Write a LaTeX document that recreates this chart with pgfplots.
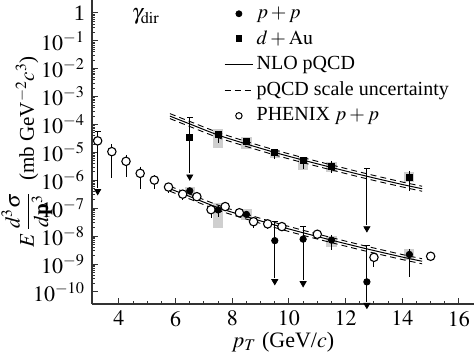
\documentclass[border=0pt]{standalone}
\usepackage{mathptmx}
\usepackage{fontspec}
\setmainfont{Liberation Serif}
\usepackage{pgfplots}
\usepackage{pgfplotstable}
\pgfplotsset{compat=1.18}

% NLO pQCD curves with scale-uncertainty band
\pgfplotstableread{
x    nlo      hi       lo
5.8  5.0e-7   6.15e-7  4.07e-7
6.5  2.63e-7  3.23e-7  2.14e-7
7.5  1.05e-7  1.29e-7  8.5e-8
8.5  5.0e-8   6.15e-8  4.07e-8
9.5  2.5e-8   3.08e-8  2.03e-8
10.5 1.32e-8  1.62e-8  1.07e-8
11.5 7.2e-9   8.9e-9   5.85e-9
12.7 3.6e-9   4.43e-9  2.93e-9
14.0 1.78e-9  2.19e-9  1.45e-9
14.7 1.26e-9  1.55e-9  1.02e-9
}\ppcurve
\pgfplotstableread{
x    nlo      hi       lo
5.8  2.0e-4   2.46e-4  1.63e-4
6.5  1.05e-4  1.29e-4  8.5e-5
7.5  4.2e-5   5.2e-5   3.4e-5
8.5  2.0e-5   2.46e-5  1.63e-5
9.5  1.0e-5   1.23e-5  8.1e-6
10.5 5.3e-6   6.5e-6   4.3e-6
11.5 2.9e-6   3.57e-6  2.36e-6
12.7 1.44e-6  1.77e-6  1.17e-6
14.0 7.1e-7   8.7e-7   5.8e-7
14.7 5.0e-7   6.15e-7  4.07e-7
}\dacurve
% PHENIX p+p
\pgfplotstableread{
x     y
3.25  2.6e-5
3.75  1.07e-5
4.25  4.8e-6
4.75  1.78e-6
5.25  1.02e-6
5.75  5.75e-7
6.25  3.2e-7
6.75  2.6e-7
7.25  8.9e-8
7.75  1.15e-7
8.25  6.9e-8
8.75  3.3e-8
9.25  2.75e-8
9.75  2.2e-8
11.0  1.17e-8
13.0  1.74e-9
15.0  1.9e-9
}\phenix
% p+p
\pgfplotstableread{
x     y
6.5   4.2e-7
7.5   8.7e-8
8.5   6.0e-8
9.5   6.9e-9
10.5  7.8e-9
11.5  7.2e-9
12.75 2.3e-10
14.25 2.2e-9
}\pp
% d+Au
\pgfplotstableread{
x     y
6.5   3.5e-5
7.5   4.5e-5
8.5   2.45e-5
9.5   9.8e-6
10.5  5.1e-6
11.5  3.1e-6
14.25 1.29e-6
}\dau
% error bar segments, nan = break
\pgfplotstableread{
x     y
3.25  5.6e-5
3.25  5.4e-7
nan   nan
3.75  2.0e-5
3.75  1.26e-6
nan   nan
4.25  8.1e-6
4.25  1.3e-6
nan   nan
4.75  3.1e-6
4.75  4.9e-7
nan   nan
5.25  1.55e-6
5.25  4.9e-7
nan   nan
5.75  8.3e-7
5.75  3.5e-7
nan   nan
6.25  3.2e-7
6.25  2.0e-7
nan   nan
7.25  8.9e-8
7.25  4.5e-8
nan   nan
8.75  3.3e-8
8.75  2.0e-8
nan   nan
9.25  2.75e-8
9.25  1.8e-8
nan   nan
13.0  1.74e-9
13.0  8.1e-10
nan   nan
6.5   5.2e-7
6.5   3.2e-7
nan   nan
7.5   1.3e-7
7.5   5.0e-8
nan   nan
8.5   7.5e-8
8.5   4.8e-8
nan   nan
9.5   3.3e-8
9.5   3.2e-10
nan   nan
10.5  2.2e-8
10.5  2.7e-10
nan   nan
11.5  1.12e-8
11.5  3.3e-9
nan   nan
12.75 4.5e-9
12.75 4.5e-11
nan   nan
14.25 3.5e-9
14.25 3.5e-10
nan   nan
6.5   1.8e-4
6.5   1.8e-6
nan   nan
7.5   5.6e-5
7.5   2.2e-5
nan   nan
8.5   3.0e-5
8.5   2.0e-5
nan   nan
9.5   1.2e-5
9.5   5.6e-6
nan   nan
10.5  6.3e-6
10.5  2.5e-6
nan   nan
11.5  5.0e-6
11.5  1.8e-6
nan   nan
12.75 2.6e-6
12.75 2.5e-8
nan   nan
14.25 2.2e-6
14.25 4.3e-7
}\bars
\pgfplotstableread{
x     y
3.25  5.4e-7
9.5   3.2e-10
10.5  2.7e-10
12.75 4.5e-11
6.5   1.8e-6
12.75 2.5e-8
}\tips
\pgfplotstableread{
x     y
3.25  5.6e-5
9.5   3.3e-8
10.5  2.2e-8
12.75 4.5e-9
6.5   1.8e-4
12.75 2.6e-6
}\caps

\begin{document}
\begin{tikzpicture}
\begin{axis}[
  scale only axis, width=191pt, height=152pt,
  xmin=3.05, xmax=16.53,
  ymode=log, ymin=3.7e-11, ymax=2.9,
  axis x line*=bottom, axis y line*=left,
  axis line style={-, line width=0.6pt, black!80},
  tick align=inside, major tick length=3pt, minor tick length=1.6pt,
  tick style={black!80, line width=0.5pt},
  xtick={4,6,...,16}, minor x tick num=3,
  ytick={1e-10,1e-9,1e-8,1e-7,1e-6,1e-5,1e-4,1e-3,1e-2,1e-1,1},
  yticklabels={$10^{-10}$,$10^{-9}$,$10^{-8}$,$10^{-7}$,$10^{-6}$,$10^{-5}$,$10^{-4}$,$10^{-3}$,$10^{-2}$,$10^{-1}$,1},
  ticklabel style={font=\fontsize{11}{13}\selectfont},
  xlabel={$p_T$ (GeV/$c$)},
  xlabel style={font=\fontsize{11}{13}\selectfont, yshift=4pt},
  ylabel={$E\,\displaystyle\frac{d^3\sigma}{d\mathbf{p}^3}$\ \ (mb GeV$^{-2}c^3$)},
  ylabel style={font=\fontsize{10.5}{12}\selectfont, at={(axis description cs:-0.17,0.5)}, anchor=center},
  unbounded coords=jump,
  legend style={at={(axis description cs:0.345,0.99)}, anchor=north west,
    draw=none, fill=none, font=\fontsize{10}{12}\selectfont,
    row sep=1.6pt, inner sep=0pt, nodes={inner sep=1.5pt}},
  legend cell align=left,
  legend image code/.code={\draw[mark repeat=2,mark phase=2,#1] plot coordinates {(0cm,0cm)(0.25cm,0cm)(0.5cm,0cm)};},
  box/.style={fill=gray!38, draw=none, forget plot},
]
% systematic boxes: d+Au
\addplot[box] coordinates {(7.32,6.8e-5)(7.68,6.8e-5)(7.68,1.41e-5)(7.32,1.41e-5)} -- cycle;
\addplot[box] coordinates {(8.32,3.5e-5)(8.68,3.5e-5)(8.68,1.29e-5)(8.32,1.29e-5)} -- cycle;
\addplot[box] coordinates {(9.32,1.23e-5)(9.68,1.23e-5)(9.68,6.2e-6)(9.32,6.2e-6)} -- cycle;
\addplot[box] coordinates {(10.32,7.1e-6)(10.68,7.1e-6)(10.68,2.34e-6)(10.32,2.34e-6)} -- cycle;
\addplot[box] coordinates {(11.32,4.7e-6)(11.68,4.7e-6)(11.68,2.04e-6)(11.32,2.04e-6)} -- cycle;
\addplot[box] coordinates {(14.07,2.04e-6)(14.43,2.04e-6)(14.43,8.9e-7)(14.07,8.9e-7)} -- cycle;
% systematic boxes: p+p
\addplot[box] coordinates {(6.32,6.0e-7)(6.68,6.0e-7)(6.68,2.75e-7)(6.32,2.75e-7)} -- cycle;
\addplot[box] coordinates {(7.32,1.51e-7)(7.68,1.51e-7)(7.68,1.9e-8)(7.32,1.9e-8)} -- cycle;
\addplot[box] coordinates {(8.32,9.1e-8)(8.68,9.1e-8)(8.68,3.8e-8)(8.32,3.8e-8)} -- cycle;
\addplot[box] coordinates {(11.32,1.05e-8)(11.68,1.05e-8)(11.68,4.2e-9)(11.32,4.2e-9)} -- cycle;
\addplot[box] coordinates {(14.07,3.4e-9)(14.43,3.4e-9)(14.43,1.41e-9)(14.07,1.41e-9)} -- cycle;
% theory
\addplot[black, line width=0.5pt, smooth, forget plot] table[y=nlo] {\ppcurve};
\addplot[black, line width=0.45pt, smooth, dash pattern=on 3pt off 2pt, forget plot] table[y=hi] {\ppcurve};
\addplot[black, line width=0.45pt, smooth, dash pattern=on 3pt off 2pt, forget plot] table[y=lo] {\ppcurve};
\addplot[black, line width=0.5pt, smooth, forget plot] table[y=nlo] {\dacurve};
\addplot[black, line width=0.45pt, smooth, dash pattern=on 3pt off 2pt, forget plot] table[y=hi] {\dacurve};
\addplot[black, line width=0.45pt, smooth, dash pattern=on 3pt off 2pt, forget plot] table[y=lo] {\dacurve};
% error bars
\addplot[black, line width=0.5pt, forget plot] table {\bars};
\addplot[black, only marks, mark=triangle*, mark size=1.7pt, mark options={rotate=180, yshift=1.7pt}, forget plot] table {\tips};
\addplot[black, only marks, mark=-, mark size=1.5pt, mark options={line width=0.5pt}, forget plot] table {\caps};
% data
\addplot[black, only marks, mark=*, mark size=2.1pt, mark options={fill=white, line width=0.55pt}, forget plot] table {\phenix};
\addplot[black, only marks, mark=*, mark size=1.6pt, forget plot] table {\pp};
\addplot[black, only marks, mark=square*, mark size=1.45pt, forget plot] table {\dau};
% legend
\addlegendimage{black, only marks, mark=*, mark size=1.5pt}
\addlegendentry{$p+p$}
\addlegendimage{black, only marks, mark=square*, mark size=1.4pt}
\addlegendentry{$d+\mathrm{Au}$}
\addlegendimage{black, line width=0.5pt}
\addlegendentry{NLO pQCD}
\addlegendimage{black, line width=0.5pt, dash pattern=on 3pt off 2pt}
\addlegendentry{pQCD scale uncertainty}
\addlegendimage{black, only marks, mark=*, mark size=1.6pt, mark options={fill=white, line width=0.5pt}}
\addlegendentry{PHENIX $p+p$}
\node[font=\fontsize{11}{13}\selectfont] at (axis cs:4.95,0.72) {$\gamma_{\mathrm{dir}}$};
\end{axis}
\pgfresetboundingbox
\path (-46pt,-25pt) rectangle (191pt,152pt);
\end{tikzpicture}
\end{document}
